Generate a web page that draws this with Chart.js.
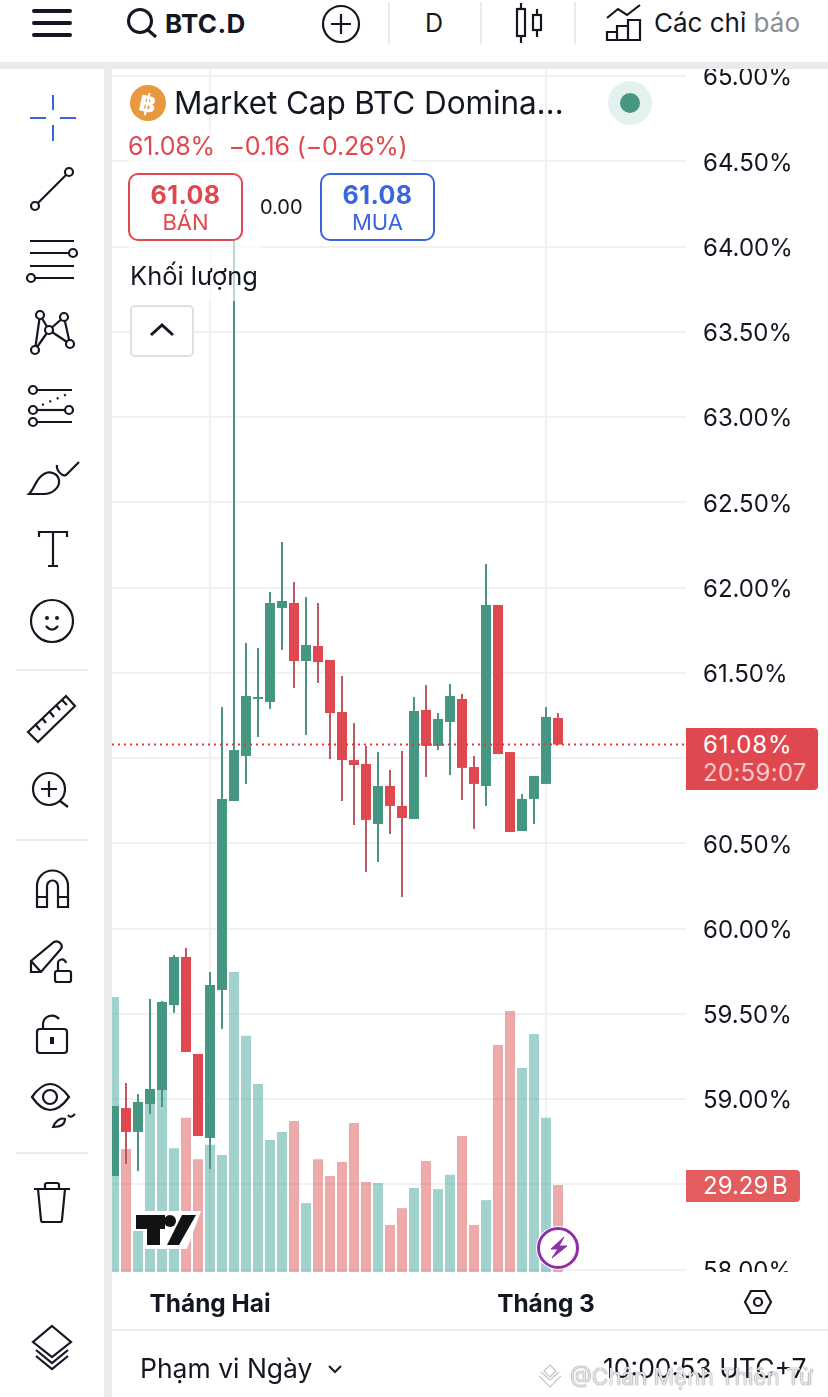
<!DOCTYPE html>
<html>
<head>
<meta charset="utf-8">
<script src="https://cdn.jsdelivr.net/npm/chart.js@4"></script>
<style>
html, body { margin: 0; padding: 0; background: #fff; }
body { width: 828px; height: 1397px; position: relative; overflow: hidden; font-family: Inter, "Noto Sans", sans-serif; color: #131722; }
canvas { position: absolute; left: 0; top: 0; }
.t { position: absolute; white-space: nowrap; line-height: 1; }
.box { position: absolute; background: #fff; }
svg { position: absolute; left: 0; top: 0; }
</style>
</head>
<body>
<canvas id="chart" width="828" height="1397" style="width:828px;height:1397px"></canvas>

<div class="box" style="left:0;top:0;width:828px;height:62px"></div>
<div class="box" style="left:0;top:62px;width:828px;height:7px;background:#ebebeb"></div>
<div class="box" style="left:104px;top:62px;width:8px;height:1335px;background:#ebebeb"></div>
<div class="box" style="left:686px;top:1272px;width:142px;height:56px"></div>
<div class="box" style="left:112px;top:1329px;width:716px;height:2px;background:#ebebeb"></div>
<div class="box" style="left:128px;top:240px;width:134px;height:61px;background:rgba(255,255,255,.62)"></div>
<div class="box" style="left:128px;top:130px;width:285px;height:43px;background:rgba(255,255,255,.7)"></div>

<div class="t" style="left:165px;top:11px;font-size:26px;font-weight:700;letter-spacing:.3px">BTC.D</div>
<div class="t" style="left:425px;top:11px;font-size:25px">D</div>
<div class="t" style="left:654px;top:10px;font-size:26px">Các chỉ <span style="color:#8a8d94">báo</span></div>

<div class="t" style="left:174px;top:87px;font-size:31.5px;letter-spacing:-.1px">Market Cap BTC Domina…</div>
<div class="t" style="left:128px;top:134px;font-size:25px;color:#e0484f;letter-spacing:-.2px">61.08%&nbsp; −0.16 (−0.26%)</div>

<div class="box" style="left:128px;top:173px;width:111px;height:64px;border:2px solid #e0484f;border-radius:10px"></div>
<div class="t" style="left:128px;width:115px;text-align:center;top:183px;font-size:25px;font-weight:700;letter-spacing:.4px;color:#e0484f">61.08</div>
<div class="t" style="left:128px;width:115px;text-align:center;top:211px;font-size:22px;color:#e0484f">BÁN</div>
<div class="t" style="left:260px;top:197px;font-size:20px">0.00</div>
<div class="box" style="left:320px;top:173px;width:111px;height:64px;border:2px solid #3a66dd;border-radius:10px"></div>
<div class="t" style="left:320px;width:115px;text-align:center;top:183px;font-size:25px;font-weight:700;letter-spacing:.4px;color:#3a66dd">61.08</div>
<div class="t" style="left:320px;width:115px;text-align:center;top:211px;font-size:22px;color:#3a66dd">MUA</div>

<div class="t" style="left:130px;top:263px;font-size:25.5px">Khối lượng</div>
<div class="box" style="left:130px;top:305px;width:60px;height:48px;border:2px solid #dfe0e2;border-radius:5px"></div>

<div class="box" style="left:686px;top:728px;width:132px;height:62px;background:#e0484f;border-radius:0 4px 4px 0"></div>
<div class="t" style="left:703px;top:733px;font-size:24px;letter-spacing:.8px;color:#fff">61.08%</div>
<div class="t" style="left:703px;top:761px;font-size:24px;letter-spacing:.3px;color:#f6c9cb">20:59:07</div>
<div class="box" style="left:686px;top:1170px;width:114px;height:32px;background:#e35c5e;border-radius:0 4px 4px 0"></div>
<div class="t" style="left:703px;top:1174px;font-size:24px;color:#fff;word-spacing:-3px">29.29 B</div>

<div class="t" style="left:140px;top:1355px;font-size:26.5px">Phạm vi Ngày</div>
<div class="t" style="left:603px;top:1355px;font-size:26.5px">10:00:53 UTC+7</div>
<div class="t" style="left:570px;top:1366px;font-size:22.5px;color:rgba(255,255,255,.82);text-shadow:0 0 1px #777,0 0 1px #777">@Chân Mệnh Thiên Tử</div>

<svg width="828" height="1397" viewBox="0 0 828 1397" fill="none" stroke="#131722" stroke-width="2.2">
  <!-- top bar -->
  <path d="M34 11H70M34 23H70M34 35H70" stroke-width="4" stroke-linecap="round"/>
  <circle cx="140" cy="21" r="11.5" stroke-width="3"/><path d="M148 30L156 37" stroke-width="3"/>
  <circle cx="341" cy="24" r="18"/><path d="M341 14V34M331 24H351"/>
  <path d="M389 2V44M481 2V44M575 2V44" stroke="#ebebeb" stroke-width="2"/>
  <rect x="517" y="9" width="8" height="27"/><path d="M521 3V9M521 36V43"/>
  <rect x="533" y="15" width="8" height="15"/><path d="M537 9V15M537 30V37"/>
  <path d="M607 18L618 9L627 15L640 5"/>
  <path d="M607 40V32H617V40M617 40V26H628V40M628 40V20H640V40M606 40H641"/>

  <!-- left toolbar -->
  <path d="M53 95V110M53 125V141M30 118H46M60 118H76" stroke="#3a66dd" stroke-width="2"/>
  <circle cx="35" cy="206" r="4"/><circle cx="69" cy="172" r="4"/><path d="M38 203L66 175"/>
  <path d="M30 241H74M30 253H69M30 266H74M35 278H74"/><circle cx="73" cy="253" r="4"/><circle cx="31" cy="278" r="4"/>
  <path d="M40 315L35 350M40 315L49 330M64 317L49 330M64 317L70 344M49 330L70 344M49 330L35 350"/>
  <circle cx="40" cy="315" r="4" fill="#fff"/><circle cx="64" cy="317" r="4" fill="#fff"/><circle cx="49" cy="330" r="4" fill="#fff"/><circle cx="70" cy="344" r="4" fill="#fff"/><circle cx="35" cy="350" r="4" fill="#fff"/>
  <circle cx="33" cy="390" r="4"/><path d="M37 390H72"/><circle cx="33" cy="410" r="4"/><path d="M37 410H65"/><circle cx="69" cy="410" r="4"/><circle cx="33" cy="422" r="4"/><path d="M37 422H72"/>
  <path d="M42 405L70 393" stroke-dasharray="2 6"/>
  <path d="M29 494C35 488 36 478 44 474C50 470 58 474 59 480C60 488 52 494 44 494Z"/>
  <path d="M57 465C56 470 62 477 66 475L79 462"/>
  <path d="M39 537V532H67V537M53 532V566M48 566H58"/>
  <circle cx="52" cy="621" r="21"/><circle cx="47" cy="618" r="2" fill="#131722" stroke="none"/><circle cx="57" cy="618" r="2" fill="#131722" stroke="none"/><path d="M46 626Q52 633 58 626"/>
  <path d="M28 732L38 742L75 706L66 696Z"/><path d="M35 724L40 730M42 718L46 723M49 711L54 717M56 705L60 710M62 700L67 705"/>
  <circle cx="49" cy="789" r="16"/><path d="M49 781V797M41 789H57M60 801L68 807"/>
  <path d="M16 670H88M16 840H88M16 1153H88" stroke="#ebebeb" stroke-width="2"/>
  <path d="M37 907V886A15.5 15.5 0 0 1 68 886V907H58V886A5 5 0 0 0 47 886V907ZM37 897H47M58 897H68"/>
  <path d="M31 972V961L54 942Q58 940 61 944Q63 947 60 950L41 972ZM41 972L31 961"/>
  <rect x="55" y="971" width="16" height="11" rx="2"/><path d="M58 971V964A4 4 0 0 1 66 963"/>
  <rect x="37" y="1029" width="30" height="24" rx="3"/><path d="M43 1029V1024A9 9 0 0 1 59 1019"/><path d="M52 1037V1044" stroke-width="4"/>
  <path d="M32 1097Q50 1071 69 1097Q50 1123 32 1097Z"/><circle cx="50" cy="1097" r="7"/>
  <path d="M53 1127C55 1122 60 1117 65 1119C65 1125 60 1127 53 1127ZM68 1115C70 1118 72 1117 75 1114" stroke-width="2"/>
  <path d="M34 1189H70M45 1189V1185Q45 1183 47 1183H57Q59 1183 59 1185V1189M38 1189L41 1220Q41 1222 43 1222H60Q62 1222 62 1220L65 1189"/>
  <path d="M52 1326L71 1342L52 1357L33 1342ZM36 1350L52 1363L68 1350M36 1356L52 1369L68 1356"/>

  <!-- legend marks -->
  <circle cx="148" cy="103" r="18" fill="#e8983e" stroke="none"/>
  <text x="148" y="112" font-size="25" font-weight="700" text-anchor="middle" fill="#fff" stroke="none" font-family="DejaVu Sans" transform="rotate(12 148 103)">฿</text>
  <circle cx="630" cy="103" r="22" fill="#e3f1ef" stroke="none"/><circle cx="630" cy="103" r="10" fill="#459782" stroke="none"/>
  <path d="M151 335L162 325L173 335" stroke-width="3"/>

  <!-- logo, bolt, settings -->
  <path d="M133 1211H201L187 1249H145V1231H133Z" fill="#fff" stroke="none"/>
  <path d="M136 1215H165V1229H160V1245H147V1229H136ZM182 1215H196L179 1245H167Z" fill="#131313" stroke="none"/>
  <circle cx="170" cy="1221" r="6" fill="#131313" stroke="none"/>
  <circle cx="558" cy="1248" r="22" fill="#fff" stroke="none"/>
  <circle cx="558" cy="1248" r="19.5" stroke="#8e2ea8" stroke-width="3"/>
  <path d="M564 1237L551 1249H558L552 1258L567 1246H559Z" fill="#8e2ea8" stroke="#8e2ea8" stroke-width="1"/>
  <path d="M745 1302L751 1291H765L771 1302L765 1313H751Z"/><circle cx="758" cy="1302" r="4"/>
  <path d="M329 1366L335 1372L341 1366" stroke-width="2"/>
  <path d="M550 1365L556 1371L550 1377L544 1371ZM541 1372L550 1380L559 1372M539 1376L550 1387L561 1376" stroke="#c4c4c4" stroke-width="1.2"/>
</svg>

<script>
const dates = ['24/1','25/1','26/1','27/1','28/1','29/1','30/1','31/1','1/2','2/2','3/2','4/2','5/2','6/2','7/2','8/2','9/2','10/2','11/2','12/2','13/2','14/2','15/2','16/2','17/2','18/2','19/2','20/2','21/2','22/2','23/2','24/2','25/2','26/2','27/2','28/2','1/3','2/3'];
const opens = [58.550,58.948,58.808,58.972,59.054,59.552,59.834,59.265,58.772,59.640,60.749,61.013,61.347,61.330,61.881,61.910,61.570,61.658,61.576,61.271,60.989,60.966,60.614,60.837,60.720,60.643,61.283,61.072,61.212,61.347,60.948,60.837,61.899,61.036,60.573,60.761,60.849,61.236];
const closes = [58.960,58.808,58.984,59.060,59.570,59.834,59.277,58.784,59.670,60.761,61.048,61.365,61.359,61.910,61.922,61.570,61.664,61.564,61.265,60.989,60.960,60.638,60.837,60.720,60.649,61.277,61.072,61.230,61.365,60.943,60.849,61.899,61.025,60.567,60.761,60.896,61.242,61.080];
const highs = [58.960,59.095,59.030,59.588,59.576,59.846,59.887,59.265,59.746,61.300,64.300,61.676,61.646,61.975,62.268,62.033,61.945,61.910,61.576,61.482,61.206,61.072,61.036,60.931,61.042,61.359,61.429,61.265,61.435,61.377,61.013,62.139,61.899,61.036,60.790,60.896,61.300,61.265];
const lows = [58.550,58.620,58.579,58.913,58.954,59.506,59.277,58.784,58.591,59.412,60.749,60.849,61.124,61.289,61.635,61.412,61.136,61.441,60.995,60.749,60.608,60.333,60.391,60.555,60.186,60.643,60.890,61.048,60.901,60.755,60.585,60.720,61.025,60.567,60.573,60.614,60.849,61.080];
const volumes = [92.6,41.4,13.8,58.9,62.0,41.7,51.9,38.0,42.8,39.4,101.0,79.5,63.3,44.4,47.1,50.8,23.2,38.0,32.3,37.0,50.2,30.3,30.0,15.8,21.5,28.3,37.4,27.9,32.7,45.8,15.8,24.2,76.4,87.9,68.7,80.1,51.9,29.29];
const yTicks = [58,58.5,59,59.5,60,60.5,61,61.5,62,62.5,63,63.5,64,64.5,65];
const monthStarts = ['1/2', '1/3'];
const monthLabels = ['Tháng Hai', 'Tháng 3'];
const lastPrice = 61.08;

const monthTicks = monthStarts.map(d => dates.indexOf(d));
const xMin = -1 / 6, xMax = 47.667;
const isUp = closes.map((c, i) => c >= opens[i]);
const pick = (up, down) => isUp.map(u => u ? up : down);

new Chart(document.getElementById('chart'), {
    data: {
        datasets: [{
            type: 'bar',
            order: 3,
            yAxisID: 'vol',
            data: volumes.map((v, i) => ({x: i, y: v})),
            backgroundColor: pick('rgba(70,165,155,.5)', 'rgba(218,88,85,.5)'),
            barThickness: 10
        }, {
            type: 'bar',
            order: 2,
            yAxisID: 'y',
            data: highs.map((h, i) => ({x: i, y: [lows[i], h]})),
            backgroundColor: pick('#4e9483', '#bc5a63'),
            barThickness: 2
        }, {
            type: 'bar',
            order: 1,
            yAxisID: 'y',
            data: opens.map((o, i) => ({x: i, y: [o, closes[i]]})),
            backgroundColor: pick('#459782', '#e0484f'),
            barThickness: 10
        }, {
            type: 'line',
            order: 0,
            yAxisID: 'y',
            data: [{x: xMin, y: lastPrice}, {x: xMax, y: lastPrice}],
            borderColor: '#e8333d',
            borderWidth: 2,
            borderDash: [2, 4],
            pointRadius: 0
        }]
    },
    options: {
        responsive: false,
        animation: false,
        devicePixelRatio: 1,
        layout: {padding: {left: 112, top: 69}},
        datasets: {bar: {grouped: false, inflateAmount: 0, borderWidth: 0}},
        plugins: {legend: {display: false}, tooltip: {enabled: false}},
        scales: {
            x: {
                type: 'linear',
                offset: false,
                min: xMin,
                max: xMax,
                afterBuildTicks: axis => { axis.ticks = monthTicks.map(v => ({value: v})); },
                afterFit: axis => { axis.height = 125; },
                border: {display: false},
                grid: {color: '#f1f1f2', lineWidth: 2, drawTicks: false, offset: false},
                ticks: {
                    autoSkip: false,
                    maxRotation: 0,
                    padding: 18,
                    color: '#131722',
                    font: {family: 'Inter', size: 24.4, weight: '700'},
                    callback: v => monthLabels[monthTicks.indexOf(v)]
                }
            },
            y: {
                position: 'right',
                min: 57.9865,
                max: 65.042,
                afterBuildTicks: axis => { axis.ticks = yTicks.map(v => ({value: v})); },
                afterFit: axis => { axis.width = 142; },
                border: {display: false},
                grid: {color: '#f1f1f2', lineWidth: 2, drawTicks: false},
                ticks: {
                    padding: 17,
                    labelOffset: 2,
                    color: '#131722',
                    font: {family: 'Inter', size: 24},
                    callback: v => v.toFixed(2) + '%'
                }
            },
            vol: {
                display: false,
                min: 0,
                max: 405
            }
        }
    }
});
</script>
</body>
</html>
